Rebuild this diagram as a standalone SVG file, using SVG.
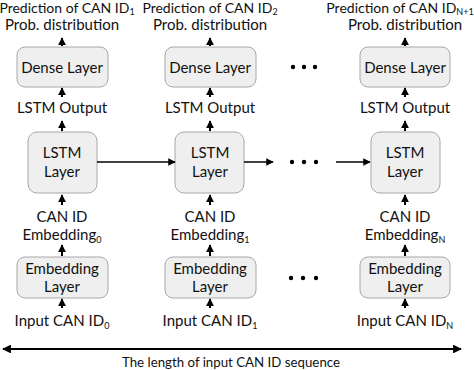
<svg xmlns="http://www.w3.org/2000/svg" width="474" height="370" viewBox="0 0 474 370">
<defs>
<marker id="ah" viewBox="0 0 10 10" refX="9" refY="5" markerWidth="4" markerHeight="4" orient="auto-start-reverse" markerUnits="strokeWidth">
<path d="M0,0 L10,5 L0,10 z" fill="#000"/>
</marker>
<marker id="ahs" viewBox="0 0 10 10" refX="9" refY="5" markerWidth="5" markerHeight="5" orient="auto-start-reverse" markerUnits="strokeWidth">
<path d="M0,0 L10,5 L0,10 z" fill="#000"/>
</marker>
</defs>
<style>
text{font-family:"Lato","Liberation Sans",sans-serif;font-size:15px;fill:#111;text-anchor:middle}
.top{font-size:14px}
.sub{font-size:9px}
.box{fill:#efefef;stroke:#a8a8a8;stroke-width:1}
.v{stroke:#000;stroke-width:2;fill:none;marker-end:url(#ah)}
.h{stroke:#000;stroke-width:1.5;fill:none;marker-end:url(#ahs)}
.dot{fill:#000}
</style>
<rect width="474" height="370" fill="#fff"/>

<g id="col1">
<text class="top" x="67" y="13">Prediction of CAN ID<tspan class="sub" dy="2">1</tspan></text>
<text x="62" y="30">Prob. distribution</text>
<g id="dense1"><rect class="box" x="17" y="47" width="91" height="40" rx="8"/><text x="62" y="73">Dense Layer</text></g>
<text x="62" y="113">LSTM Output</text>
<g id="lstm1"><rect class="box" x="28" y="132" width="69" height="61" rx="9"/><text x="62" y="158">LSTM</text><text x="62" y="177">Layer</text></g>
<text x="62" y="222">CAN ID</text>
<text x="62" y="240">Embedding<tspan class="sub" dy="3">0</tspan></text>
<g id="emb1"><rect class="box" x="17" y="257" width="91" height="41" rx="8"/><text x="62" y="274">Embedding</text><text x="62" y="292">Layer</text></g>
<text x="62" y="326">Input CAN ID<tspan class="sub" dy="3">0</tspan></text>
</g>

<g id="col2">
<text class="top" x="210" y="13">Prediction of CAN ID<tspan class="sub" dy="2">2</tspan></text>
<text x="210" y="30">Prob. distribution</text>
<g id="dense2"><rect class="box" x="165" y="47" width="91" height="40" rx="8"/><text x="210" y="73">Dense Layer</text></g>
<text x="210" y="113">LSTM Output</text>
<g id="lstm2"><rect class="box" x="175" y="132" width="69" height="61" rx="9"/><text x="210" y="158">LSTM</text><text x="210" y="177">Layer</text></g>
<text x="210" y="222">CAN ID</text>
<text x="210" y="240">Embedding<tspan class="sub" dy="3">1</tspan></text>
<g id="emb2"><rect class="box" x="165" y="257" width="91" height="41" rx="8"/><text x="210" y="274">Embedding</text><text x="210" y="292">Layer</text></g>
<text x="210" y="326">Input CAN ID<tspan class="sub" dy="3">1</tspan></text>
</g>

<g id="col3">
<text class="top" x="400" y="13">Prediction of CAN ID<tspan class="sub" dy="2">N+1</tspan></text>
<text x="405" y="30">Prob. distribution</text>
<g id="dense3"><rect class="box" x="360" y="47" width="90" height="40" rx="8"/><text x="405" y="73">Dense Layer</text></g>
<text x="405" y="113">LSTM Output</text>
<g id="lstm3"><rect class="box" x="371" y="132" width="69" height="61" rx="9"/><text x="405" y="158">LSTM</text><text x="405" y="177">Layer</text></g>
<text x="405" y="222">CAN ID</text>
<text x="405" y="240">Embedding<tspan class="sub" dy="3">N</tspan></text>
<g id="emb3"><rect class="box" x="360" y="257" width="90" height="41" rx="8"/><text x="405" y="274">Embedding</text><text x="405" y="292">Layer</text></g>
<text x="405" y="326">Input CAN ID<tspan class="sub" dy="3">N</tspan></text>
</g>

<g id="dots">
<circle class="dot" cx="293" cy="67" r="2.2"/><circle class="dot" cx="304" cy="67" r="2.2"/><circle class="dot" cx="315" cy="67" r="2.2"/>
<circle class="dot" cx="292" cy="162" r="2.2"/><circle class="dot" cx="304" cy="162" r="2.2"/><circle class="dot" cx="316" cy="162" r="2.2"/>
<circle class="dot" cx="291" cy="278" r="2.2"/><circle class="dot" cx="303" cy="278" r="2.2"/><circle class="dot" cx="316" cy="278" r="2.2"/>
</g>

<g id="connectors">
<path class="v" d="M62,46 V38"/><path class="v" d="M62,97 V88"/><path class="v" d="M62,131 V121"/><path class="v" d="M62,205 V195"/><path class="v" d="M62,256 V245"/><path class="v" d="M62,308 V299"/>
<path class="v" d="M210,46 V38"/><path class="v" d="M210,97 V88"/><path class="v" d="M210,131 V121"/><path class="v" d="M210,205 V195"/><path class="v" d="M210,256 V245"/><path class="v" d="M210,308 V299"/>
<path class="v" d="M405,46 V38"/><path class="v" d="M405,97 V88"/><path class="v" d="M405,131 V121"/><path class="v" d="M405,205 V195"/><path class="v" d="M405,256 V245"/><path class="v" d="M405,308 V299"/>
<path class="h" d="M97,162 H175"/>
<path class="h" d="M244,162 H273"/>
<path class="h" d="M336,162 H370"/>
<path stroke="#000" stroke-width="2.2" fill="none" marker-start="url(#ah)" marker-end="url(#ah)" d="M3,349 H461"/>
</g>
<text x="231" y="367" style="font-size:14px" textLength="218" lengthAdjust="spacingAndGlyphs">The length of input CAN ID sequence</text>
</svg>
